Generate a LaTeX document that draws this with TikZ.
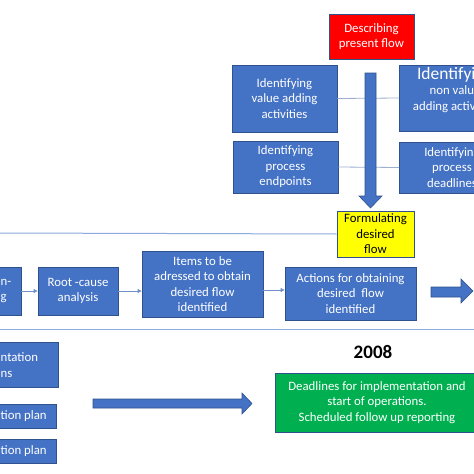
\documentclass[tikz,border=0pt]{standalone}
\usepackage{fontspec}
\setmainfont{Carlito}
\usetikzlibrary{arrows.meta}
\definecolor{boxblue}{HTML}{4472C4}
\definecolor{boxedge}{HTML}{2F528F}
\definecolor{presred}{HTML}{FF0000}
\definecolor{formyellow}{HTML}{FFFF00}
\definecolor{plangreen}{HTML}{00B050}
\definecolor{sepline}{HTML}{8EA9DB}
\definecolor{connline}{HTML}{9DAFCF}
\definecolor{arrline}{HTML}{7090C8}
\newcommand\boxfont{\fontsize{12.8}{15.5}\selectfont}
\begin{document}
\begin{tikzpicture}[x=1pt,y=-1pt,
  box/.style={draw=boxedge, line width=0.8pt, fill=boxblue, text=white, align=center, inner sep=0pt, font=\boxfont},
  boxtext/.style={text=white, inner sep=0pt, font=\boxfont},
  blockarrow/.style={fill=boxblue, draw=boxedge, line width=0.6pt},
  sep/.style={draw=sepline, line width=1pt},
  conn/.style={draw=connline, line width=0.8pt},
  smallarr/.style={draw=arrline, line width=0.8pt, -{Triangle[length=4pt,width=4pt]}}]
\useasboundingbox (0,0) rectangle (474,474);
\clip (0,0) rectangle (474,474);
\fill[white] (0,0) rectangle (474,474);

% top section
\node[box, fill=presred, minimum width=85pt, minimum height=45pt] (present) at (371.5,36.5) {Describing\\present flow};
\node[box, minimum width=105pt, minimum height=67pt] (valadd) at (284.5,98.5) {Identifying\\value adding\\activities};
\node[box, minimum width=105pt, minimum height=66pt] (nonval) at (452,98) {};
\node[boxtext, align=center] (nonvaltxt) at (455,90) {{\fontsize{17.5}{20}\selectfont Identifying}\\non value\\adding activities};
\node[box, minimum width=105pt, minimum height=52pt] (endp) at (285.5,167) {Identifying\\process\\endpoints};
\node[box, minimum width=105pt, minimum height=51pt] (deadl) at (452,167.5) {Identifying\\process\\deadlines};
\draw[conn] (valadd.east) -- (nonval.west);
\draw[conn] (endp.east) -- (deadl.west);
\filldraw[blockarrow] (365,73) -- (376,73) -- (376,196) -- (382,196) -- (370.5,208) -- (359,196) -- (365,196) -- cycle;
\node[box, fill=formyellow, text=black, minimum width=77pt, minimum height=46pt] (formul) at (375.5,234) {Formulating\\desired\\flow};

% separators
\coordinate (s1) at (0,233);
\coordinate (s2a) at (0,329);
\coordinate (s2b) at (474,329);
\draw[sep] (s1) -- (formul.west);
\draw[sep] (s2a) -- (s2b);

% process row
\node[box, minimum width=81pt, minimum height=48pt] (ng) at (-19.5,291) {};
\node[boxtext, align=left, anchor=west] (ngtxt) at (0.5,291) {n-\\g};
\node[box, minimum width=80pt, minimum height=48pt] (root) at (78,291) {Root -cause\\analysis};
\node[box, minimum width=121pt, minimum height=66pt] (items) at (202.5,284) {Items to be\\adressed to obtain\\desired flow\\identified};
\node[box, minimum width=131pt, minimum height=53pt] (actions) at (350.5,293.5) {Actions for obtaining\\desired\ \ flow\\identified};
\draw[smallarr] (ng.east) -- (root.west);
\draw[smallarr] (root.east) -- (items.west |- root.east);
\draw[smallarr] ([yshift=-6pt]items.east) -- ([yshift=3.5pt]actions.west);
\filldraw[blockarrow] (431,287) -- (461,287) -- (461,279) -- (473,291) -- (461,303) -- (461,297) -- (431,297) -- cycle;

% bottom section
\node[box, minimum width=138pt, minimum height=45pt] (b1) at (-11,364.5) {};
\node[boxtext, align=left, anchor=west] (b1txt) at (0.5,365) {ntation\\ns};
\node[box, minimum width=136pt, minimum height=24pt] (b2) at (-12,416) {};
\node[boxtext, anchor=west] (b2txt) at (0.5,416) {tion plan};
\node[box, minimum width=136pt, minimum height=24pt] (b3) at (-12,451) {};
\node[boxtext, anchor=west] (b3txt) at (0.5,451) {tion plan};
\filldraw[blockarrow] (93,399) -- (242,399) -- (242,393) -- (252,403.5) -- (242,414) -- (242,408) -- (93,408) -- cycle;
\node[font=\fontsize{19}{22}\selectfont\bfseries, inner sep=0pt] (year) at (373,352) {2008};
\node[box, fill=plangreen, minimum width=204pt, minimum height=59pt] (green) at (377,402.5) {Deadlines for implementation and\\start of operations.\\Scheduled follow up reporting};
\end{tikzpicture}
\end{document}
